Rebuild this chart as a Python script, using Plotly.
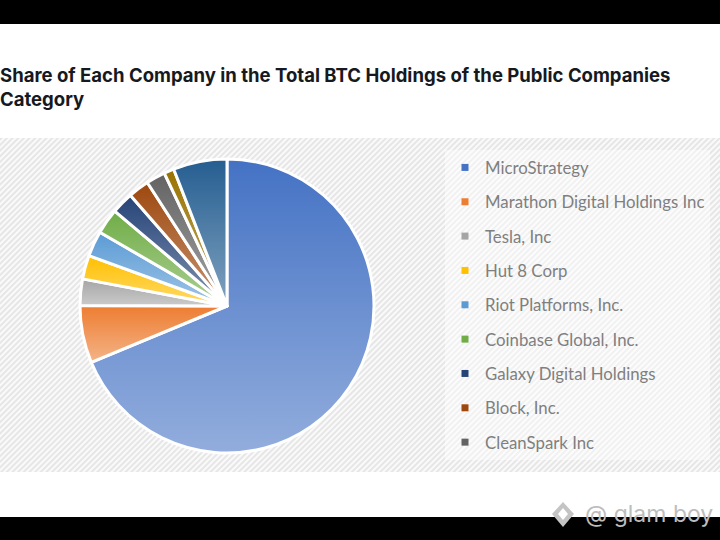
import base64
import math
import plotly.graph_objects as go

W, H = 720, 540

companies = ['MicroStrategy', 'Marathon Digital Holdings Inc', 'Tesla, Inc', 'Hut 8 Corp',
             'Riot Platforms, Inc.', 'Coinbase Global, Inc.', 'Galaxy Digital Holdings',
             'Block, Inc.', 'CleanSpark Inc', 'Other company A', 'Other company B']
shares = [68.6, 6.3, 2.9, 2.6, 2.8, 2.8, 2.4, 2.3, 2.1, 1.1, 5.9]
colors = ['#4472C4', '#ED7D31', '#A5A5A5', '#FFC000', '#5B9BD5', '#70AD47',
          '#264478', '#9E480E', '#636363', '#997300', '#255E91']
legend_count = 9  # the last two slices are cut off the legend in the original

CX, CY, R = 227, 306, 147


def data_uri(svg):
    return 'data:image/svg+xml;base64,' + base64.b64encode(svg.encode()).decode()


# ── Hatched panel behind the chart ───────────────────────────────
hatch_svg = f'''<svg xmlns="http://www.w3.org/2000/svg" width="{W}" height="334" viewBox="0 0 {W} 334">
<defs><pattern id="h" width="4" height="4" patternUnits="userSpaceOnUse" patternTransform="rotate(45)">
<rect width="4" height="4" fill="#fafafa"/><rect width="2" height="4" fill="#e6e6e6"/></pattern></defs>
<rect width="{W}" height="334" fill="url(#h)"/></svg>'''

# ── Per-slice vertical sheen, the pie trace itself only has flat fills ──
wedges = []
total = sum(shares)
start = 0
for i, s in enumerate(shares):
    end = start + s / total * 2 * math.pi
    x0, y0 = CX + R * math.sin(start), CY - R * math.cos(start)
    x1, y1 = CX + R * math.sin(end), CY - R * math.cos(end)
    large = 1 if end - start > math.pi else 0
    wedges.append(f'<path d="M{CX} {CY}L{x0:.2f} {y0:.2f}A{R} {R} 0 {large} 1 {x1:.2f} {y1:.2f}Z" fill="url(#g)"/>')
    start = end
sheen_svg = f'''<svg xmlns="http://www.w3.org/2000/svg" width="{W}" height="{H}" viewBox="0 0 {W} {H}">
<defs><linearGradient id="g" x1="0" y1="0" x2="0" y2="1">
<stop offset="0" stop-color="#fff" stop-opacity="0"/><stop offset="1" stop-color="#fff" stop-opacity="0.42"/>
</linearGradient></defs>{''.join(wedges)}</svg>'''

fig = go.Figure()

fig.add_trace(go.Pie(
    labels=companies,
    values=shares,
    sort=False,
    direction='clockwise',
    rotation=0,
    textinfo='none',
    showlegend=False,
    marker=dict(colors=colors, line=dict(color='white', width=3)),
    domain=dict(x=[(CX - R) / W, (CX + R) / W], y=[1 - (CY + R) / H, 1 - (CY - R) / H]),
))

# Legend entries come from empty scatter traces so two slices can stay out of it
for name, color in zip(companies[:legend_count], colors[:legend_count]):
    fig.add_trace(go.Scatter(
        x=[None], y=[None], mode='markers', name=name, legendgroup=name,
        marker=dict(symbol='square', size=7, color=color),
    ))

fig.update_layout(
    width=W,
    height=H,
    margin=dict(l=0, r=0, t=0, b=0),
    paper_bgcolor='white',
    plot_bgcolor='rgba(0,0,0,0)',
    xaxis=dict(visible=False),
    yaxis=dict(visible=False),
    title=dict(
        text='<b>Share of Each Company in the Total BTC Holdings of the Public Companies<br>Category</b>',
        x=0.0, xanchor='left', y=1 - 81.5 / H, yanchor='middle',
        font=dict(family='Inter', size=18.55, color='#16191d'),
    ),
    legend=dict(
        x=445 / W, xanchor='left', y=1 - 150 / H, yanchor='top',
        font=dict(family='Lato', size=16.8, color='#7f7f7f'),
        bgcolor='rgba(255,255,255,0.45)',
        tracegroupgap=9.5,
        itemclick=False,
    ),
    images=[
        dict(source=data_uri(hatch_svg), xref='paper', yref='paper', x=0, y=1 - 138 / H,
             sizex=1, sizey=334 / H, xanchor='left', yanchor='top', sizing='stretch', layer='below'),
        dict(source=data_uri(sheen_svg), xref='paper', yref='paper', x=0, y=1,
             sizex=1, sizey=1, xanchor='left', yanchor='top', sizing='stretch', layer='above'),
    ],
    shapes=[
        dict(type='rect', xref='paper', yref='paper', x0=0, x1=1, y0=1 - 24 / H, y1=1,
             fillcolor='black', line_width=0, layer='below'),
        dict(type='rect', xref='paper', yref='paper', x0=0, x1=1, y0=0, y1=23 / H,
             fillcolor='black', line_width=0, layer='below'),
        # watermark logo
        dict(type='path', xref='paper', yref='paper', fillcolor='#c4c4c4', line_width=0, layer='above',
             path=f'M{563/W} {1-502/H} L{574/W} {1-514/H} L{563/W} {1-527/H} L{552/W} {1-514/H} Z'),
        dict(type='path', xref='paper', yref='paper', fillcolor='white', line_width=0, layer='above',
             path=f'M{563/W} {1-508/H} L{568/W} {1-514/H} L{563/W} {1-520/H} L{558/W} {1-514/H} Z'),
    ],
    annotations=[
        dict(text='@ glam boy', xref='paper', yref='paper', x=583 / W, y=1 - 514 / H,
             xanchor='left', yanchor='middle', showarrow=False,
             font=dict(family='Inter', size=23, color='#bdbdbd')),
    ],
)

# the default page leaves an 8px body margin, which would push the figure out of the window
fig.write_html('out.html', config={'displayModeBar': False},
               post_script="document.body.style.margin='0';document.documentElement.style.overflow='hidden';")
